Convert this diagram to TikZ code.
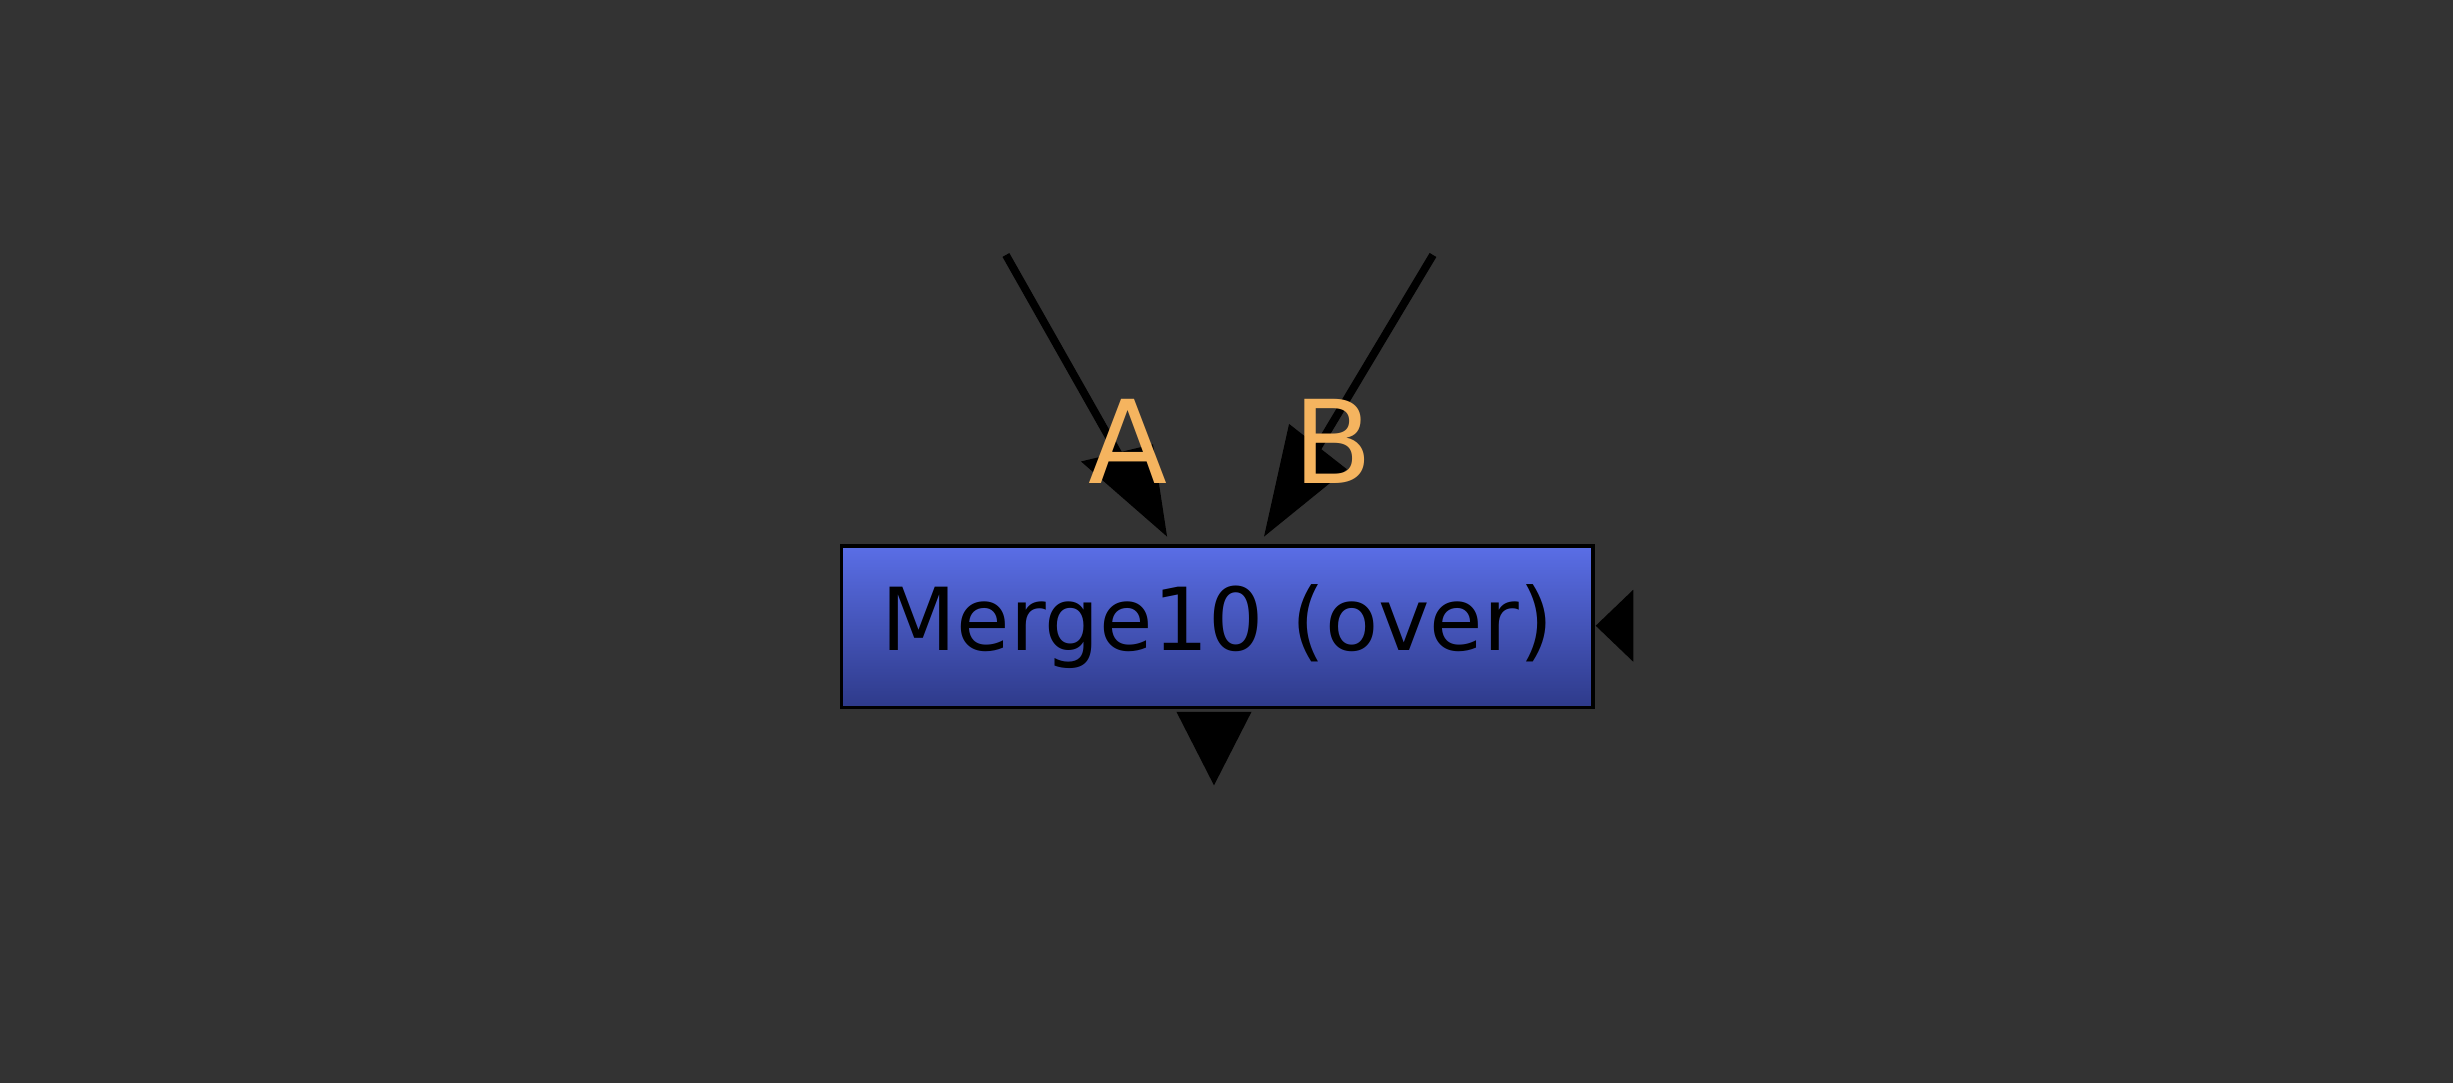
\documentclass[tikz,border=0pt]{standalone}
\usepackage{fontspec}
\newfontfamily\dejavu{DejaVu Sans}
\definecolor{bg}{HTML}{333333}
\definecolor{lab}{HTML}{F5B45F}
\definecolor{btop}{HTML}{5A6EE6}
\definecolor{bbot}{HTML}{2E3A8A}
\begin{document}
\begin{tikzpicture}[x=0.01cm,y=-0.01cm,
  wire/.style={line width=0.05cm,black},
  headfill/.style={fill=black,draw=none},
  lbl/.style={text=lab,font=\dejavu\fontsize{21pt}{21pt}\selectfont,inner sep=0}]
\fill[bg] (0,0) rectangle (1568,692);
\useasboundingbox (0,0) rectangle (1568,692);
\node[draw=black,line width=0.6pt,top color=btop,bottom color=bbot,minimum width=4.8cm,minimum height=1.03cm,inner sep=0,font=\dejavu\fontsize{15.8pt}{16pt}\selectfont,anchor=north west] (m) at (537,348) {Merge10 (over)};
\coordinate (sa) at (643,163);
\coordinate (sb) at (916,163);
\coordinate (ta) at (746,343);
\coordinate (tb) at (808,343);
\draw[wire] (sa) -- (716,292);
\draw[wire] (sb) -- (840,290);
\fill[headfill] (ta) -- (691,295) -- (737,284) -- cycle;
\fill[headfill] (tb) -- (824,271) -- (861,300) -- cycle;
\node[lbl] (la) at (721,282) {A};
\node[lbl] (lb) at (852,282) {B};
\fill[headfill] (752,455) -- (800,455) -- (776,502) -- cycle;
\fill[headfill] (1020,400) -- (1044,377) -- (1044,423) -- cycle;
\end{tikzpicture}
\end{document}
